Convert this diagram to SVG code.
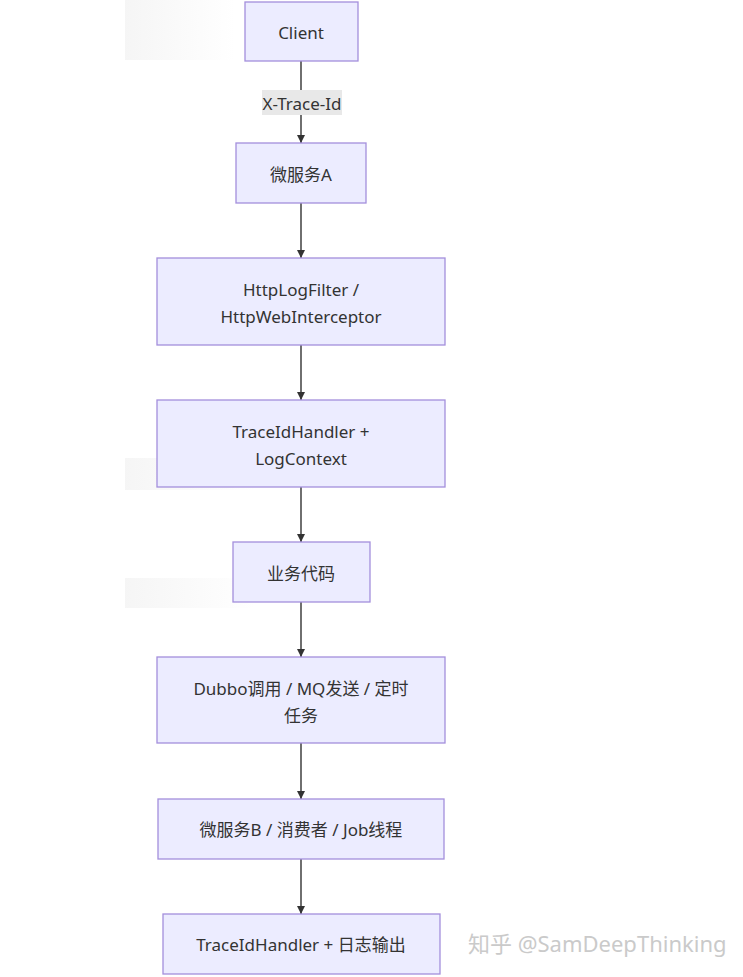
<svg xmlns="http://www.w3.org/2000/svg" width="743" height="977" viewBox="0 0 743 977">
<style>
.node rect{fill:#ECECFF;stroke:#a48fdc;stroke-width:1.3}
.node text{font-family:"Noto Sans","Noto Sans CJK SC",sans-serif;font-size:17px;fill:#333;text-anchor:middle;dominant-baseline:central}
.edge{stroke:#333;stroke-width:1.4;fill:none}
.lbl{font-family:"Noto Sans","Noto Sans CJK SC",sans-serif;font-size:17px;fill:#333;text-anchor:middle;dominant-baseline:central}
.wm{font-family:"Noto Sans","Noto Sans CJK SC",sans-serif;font-size:22px;fill:#cacaca}
</style>
<defs>
<marker id="arr" viewBox="0 0 10 10" refX="10" refY="5" markerWidth="8" markerHeight="8" orient="auto" markerUnits="userSpaceOnUse">
<path d="M0,0 L10,5 L0,10 z" fill="#333"/>
</marker>
<linearGradient id="sh" x1="0" y1="0" x2="1" y2="0">
<stop offset="0" stop-color="#f3f3f3" stop-opacity="0.8"/>
<stop offset="1" stop-color="#f3f3f3" stop-opacity="0"/>
</linearGradient>
</defs>
<rect width="743" height="977" fill="#fff"/>
<rect x="125" y="0" width="110" height="60" fill="url(#sh)"/>
<rect x="125" y="458" width="130" height="32" fill="url(#sh)"/>
<rect x="125" y="578" width="130" height="30" fill="url(#sh)"/>
<g id="connectors">
<line class="edge" x1="301" y1="61" x2="301" y2="143" marker-end="url(#arr)"/>
<line class="edge" x1="301" y1="203" x2="301" y2="258" marker-end="url(#arr)"/>
<line class="edge" x1="301" y1="345" x2="301" y2="400" marker-end="url(#arr)"/>
<line class="edge" x1="301" y1="487" x2="301" y2="542" marker-end="url(#arr)"/>
<line class="edge" x1="301" y1="602" x2="301" y2="657" marker-end="url(#arr)"/>
<line class="edge" x1="301" y1="743" x2="301" y2="799" marker-end="url(#arr)"/>
<line class="edge" x1="301" y1="859" x2="301" y2="914" marker-end="url(#arr)"/>
<g id="edge-label">
<rect x="262" y="90" width="80" height="25" fill="#e8e8e8"/>
<text class="lbl" x="302" y="103">X-Trace-Id</text>
</g>
</g>
<g id="client" class="node"><rect x="245" y="2" width="113" height="59"/><text x="301" y="32">Client</text></g>
<g id="msA" class="node"><rect x="236" y="143" width="130" height="60"/><text x="301" y="174">微服务A</text></g>
<g id="filter" class="node"><rect x="157" y="258" width="288" height="87"/><text x="301" y="289">HttpLogFilter /</text><text x="301" y="316">HttpWebInterceptor</text></g>
<g id="handler" class="node"><rect x="157" y="400" width="288" height="87"/><text x="301" y="431">TraceIdHandler +</text><text x="301" y="458">LogContext</text></g>
<g id="biz" class="node"><rect x="233" y="542" width="137" height="60"/><text x="301" y="573">业务代码</text></g>
<g id="dubbo" class="node"><rect x="157" y="657" width="288" height="86"/><text x="301" y="688">Dubbo调用 / MQ发送 / 定时</text><text x="301" y="715">任务</text></g>
<g id="msB" class="node"><rect x="158" y="799" width="286" height="60"/><text x="301" y="829">微服务B / 消费者 / Job线程</text></g>
<g id="log" class="node"><rect x="163" y="914" width="277" height="60"/><text x="301" y="944">TraceIdHandler + 日志输出</text></g>
<text class="wm" x="468" y="952">知乎 @SamDeepThinking</text>
</svg>
